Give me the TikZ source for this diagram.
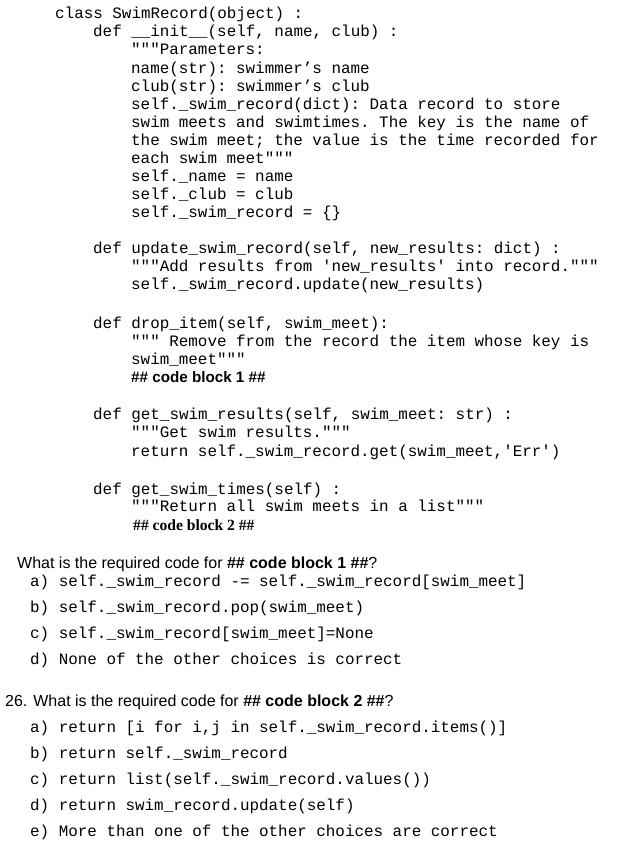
\documentclass[tikz,border=0pt]{standalone}
\usepackage{fontspec}
\setmainfont{Liberation Sans}
\setmonofont{Liberation Mono}
\newfontfamily\serifb{Liberation Serif}
\begin{document}
\begin{tikzpicture}[x=1pt,y=-1pt,
  t/.style={anchor=mid west,inner sep=0pt,font=\fontsize{15.9}{18}\ttfamily},
  s/.style={anchor=mid west,inner sep=0pt,font=\fontsize{16}{18}\selectfont}]
\useasboundingbox[fill=white] (0,-2) rectangle (632,849);
\node[t] (l1) at (55,14) {class SwimRecord(object) :};
\node[t] (l2) at (93,32) {def \_\_init\_\_(self, name, club) :};
\node[t] (l3) at (131,50) {"""Parameters:};
\node[t] (l4) at (131,69) {name(str): swimmer’s name};
\node[t] (l5) at (131,87) {club(str): swimmer’s club};
\node[t] (l6) at (131,105) {self.\_swim\_record(dict): Data record to store};
\node[t] (l7) at (131,123) {swim meets and swimtimes. The key is the name of};
\node[t] (l8) at (131,141) {the swim meet; the value is the time recorded for};
\node[t] (l9) at (131,159) {each swim meet"""};
\node[t] (l10) at (131,177) {self.\_name = name};
\node[t] (l11) at (131,195) {self.\_club = club};
\node[t] (l12) at (131,213) {self.\_swim\_record = \{\}};
\node[t] (l13) at (93,249) {def update\_swim\_record(self, new\_results: dict) :};
\node[t] (l14) at (131,267) {"""Add results from 'new\_results' into record."""};
\node[t] (l15) at (131,285) {self.\_swim\_record.update(new\_results)};
\node[t] (l16) at (93,324) {def drop\_item(self, swim\_meet):};
\node[t] (l17) at (131,342) {""" Remove from the record the item whose key is};
\node[t] (l18) at (131,360) {swim\_meet"""};
\node[s,font=\fontsize{15.2}{18}\bfseries] (l19) at (131,378) {\#\# code block 1 \#\#};
\node[t] (l20) at (93,415) {def get\_swim\_results(self, swim\_meet: str) :};
\node[t] (l21) at (131,433) {"""Get swim results."""};
\node[t] (l22) at (131,452) {return self.\_swim\_record.get(swim\_meet,'Err')};
\node[t] (l23) at (93,490) {def get\_swim\_times(self) :};
\node[t] (l24) at (131,507) {"""Return all swim meets in a list"""};
\node[s,font=\fontsize{15.6}{18}\serifb\bfseries] (l25) at (133,526) {\#\# code block 2 \#\#};
\node[s] (q1) at (17,564) {What is the required code for \textbf{\#\# code block 1 \#\#}?};
\node[t] (a1) at (30,582) {a) self.\_swim\_record -= self.\_swim\_record[swim\_meet]};
\node[t] (b1) at (30,608) {b) self.\_swim\_record.pop(swim\_meet)};
\node[t] (c1) at (30,634) {c) self.\_swim\_record[swim\_meet]=None};
\node[t] (d1) at (30,660) {d) None of the other choices is correct};
\node[s] (q2) at (5,702) {26. What is the required code for \textbf{\#\# code block 2 \#\#}?};
\node[t] (a2) at (30,728) {a) return [i for i,j in self.\_swim\_record.items()]};
\node[t] (b2) at (30,754) {b) return self.\_swim\_record};
\node[t] (c2) at (30,780) {c) return list(self.\_swim\_record.values())};
\node[t] (d2) at (30,806) {d) return swim\_record.update(self)};
\node[t] (e2) at (30,832) {e) More than one of the other choices are correct};
\end{tikzpicture}
\end{document}
